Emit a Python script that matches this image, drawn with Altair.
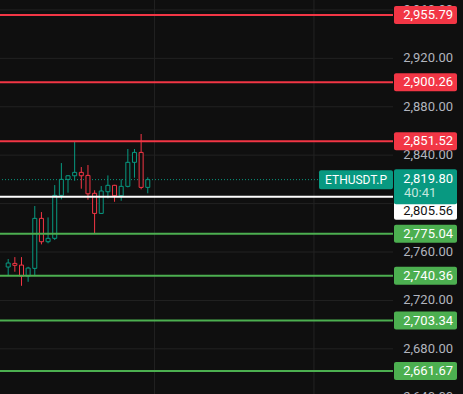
import altair as alt
import pandas as pd

# ---- data ----
opens  = [2747.6, 2750.6, 2749.2, 2740.1, 2746.5, 2787.8, 2768.5, 2771.3, 2806.8, 2820.0, 2823.0,
          2825.8, 2823.3, 2808.5, 2791.9, 2809.8, 2815.1, 2806.5, 2814.25, 2834.1, 2842.3, 2813.4]
highs  = [2754.2, 2755.8, 2755.8, 2747.8, 2798.0, 2793.0, 2788.6, 2815.3, 2833.5, 2823.5, 2851.1,
          2830.2, 2831.85, 2811.0, 2814.5, 2823.3, 2815.5, 2820.0, 2845.1, 2845.1, 2857.5, 2821.7]
lows   = [2741.0, 2743.7, 2732.1, 2735.4, 2740.1, 2766.3, 2767.2, 2769.9, 2803.5, 2809.0, 2818.9,
          2812.3, 2803.2, 2775.4, 2791.5, 2804.3, 2801.5, 2802.35, 2813.4, 2821.4, 2811.8, 2808.5]
closes = [2750.9, 2749.0, 2740.1, 2746.75, 2787.8, 2768.5, 2771.3, 2806.8, 2820.0, 2823.0, 2825.8,
          2823.0, 2808.1, 2791.9, 2810.4, 2815.1, 2806.5, 2814.25, 2834.1, 2842.3, 2813.4, 2819.8]

red_levels = [2955.79, 2900.26, 2851.52]
green_levels = [2775.04, 2740.36, 2703.34, 2661.67]
white_level = [2805.56]
last_price = [2819.80]
symbol = "ETHUSDT.P"
countdown = "40:41"
price_ticks = [2640, 2680, 2720, 2760, 2800, 2840, 2880, 2920, 2960]
time_grid = [22, 46]

# ---- styling ----
BG = "#0f0f0f"
UP = "#089981"
DOWN = "#f23645"
GREEN = "#4caf50"
GRID = "#222222"
AXTXT = "#b2b5be"
FONT = "Roboto"
FS = 13

candles = pd.DataFrame({"i": list(range(len(opens))), "open": opens, "high": highs,
                        "low": lows, "close": closes})

ysc = alt.Scale(domain=[2642.7, 2968.2], nice=False, zero=False)
xsc = alt.Scale(domain=[-0.48, 57.14], nice=False, zero=False)
dir_scale = alt.Scale(domain=["up", "down"], range=[UP, DOWN])

def Y(field):
    return alt.Y(field, type="quantitative", scale=ysc, axis=None)

hgrid = alt.Chart(pd.DataFrame({"v": price_ticks})).mark_rule(color=GRID, strokeWidth=1).encode(y=Y("v"))
vgrid = alt.Chart(pd.DataFrame({"t": time_grid})).mark_rule(color=GRID, strokeWidth=1).encode(
    x=alt.X("t:Q", scale=xsc, axis=None))

lp_df = pd.DataFrame({"p": last_price})
dotted = alt.Chart(lp_df).mark_rule(color=UP, strokeDash=[1, 2], strokeWidth=1).encode(y=Y("p"))

cbase = alt.Chart(candles).transform_calculate(
    dir="datum.close >= datum.open ? 'up' : 'down'")
wicks = cbase.mark_rule(strokeWidth=1).encode(
    x=alt.X("i:Q", scale=xsc, axis=None), y=Y("low"), y2="high",
    color=alt.Color("dir:N", scale=dir_scale, legend=None))
bodies = cbase.mark_bar(width=4, fill=BG, strokeWidth=1, orient="vertical").encode(
    x=alt.X("i:Q", scale=xsc, axis=None), y=Y("open"), y2="close",
    stroke=alt.Stroke("dir:N", scale=dir_scale, legend=None))

red_df = pd.DataFrame({"level": red_levels})
green_df = pd.DataFrame({"level": green_levels})
white_df = pd.DataFrame({"level": white_level})

red_rules = alt.Chart(red_df).mark_rule(color=DOWN, strokeWidth=2).encode(y=Y("level"))
green_rules = alt.Chart(green_df).mark_rule(color=GREEN, strokeWidth=2).encode(y=Y("level"))
white_rule = alt.Chart(white_df).mark_rule(color="#ffffff", strokeWidth=2).encode(y=Y("level"))

axis_labels = alt.Chart(pd.DataFrame({"v": price_ticks})).mark_text(
    align="right", baseline="middle", color=AXTXT, font=FONT, fontSize=FS).encode(
    x=alt.value(453), y=Y("v"), text=alt.Text("v:Q", format=",.2f"))

def box(df, color, y_off, y2_off, x0=394, x1=457):
    return alt.Chart(df).mark_rect(color=color, cornerRadius=2, yOffset=y_off, y2Offset=y2_off).encode(
        x=alt.value(x0), x2=alt.value(x1), y=Y("level"), y2="level")

def label(df, color, y_off=0):
    return alt.Chart(df).mark_text(align="right", baseline="middle", color=color, font=FONT,
                                   fontSize=FS, yOffset=y_off).encode(
        x=alt.value(453), y=Y("level"), text=alt.Text("level:Q", format=",.2f"))

lp_lvl = pd.DataFrame({"level": last_price, "sym": [symbol], "cd": [countdown]})

red_boxes = box(red_df, DOWN, -9, 9)
green_boxes = box(green_df, GREEN, -9, 9)
white_box = box(white_df, "#ffffff", 5, 23)
teal_box = box(lp_lvl, UP, -10.5, 24.5)
sym_box = box(lp_lvl, UP, -9.5, 9.5, 319, 393)

red_text = label(red_df, "#ffffff")
green_text = label(green_df, "#ffffff")
white_text = label(white_df, "#131313", 14.5)
lp_text = label(lp_lvl, "#ffffff", -0.5)
cd_text = alt.Chart(lp_lvl).mark_text(align="left", baseline="middle", color="#c4e6dd", font=FONT,
                                      fontSize=FS, yOffset=13).encode(
    x=alt.value(404), y=Y("level"), text="cd:N")
sym_text = alt.Chart(lp_lvl).mark_text(align="center", baseline="middle", color="#ffffff", font=FONT,
                                       fontSize=12).encode(
    x=alt.value(356), y=Y("level"), text="sym:N")

chart = alt.layer(
    hgrid, vgrid, dotted, wicks, bodies, red_rules, green_rules, white_rule, axis_labels,
    white_box, red_boxes, green_boxes, teal_box, sym_box,
    red_text, green_text, white_text, lp_text, cd_text, sym_text
).properties(
    width=393, height=394, background=BG,
    padding={"left": 0, "top": 0, "right": 70, "bottom": 0},
    autosize=alt.AutoSizeParams(type="none"),
).configure_view(stroke=None, fill=BG)

chart.save("out.html", embed_options={"renderer": "svg", "actions": False})
